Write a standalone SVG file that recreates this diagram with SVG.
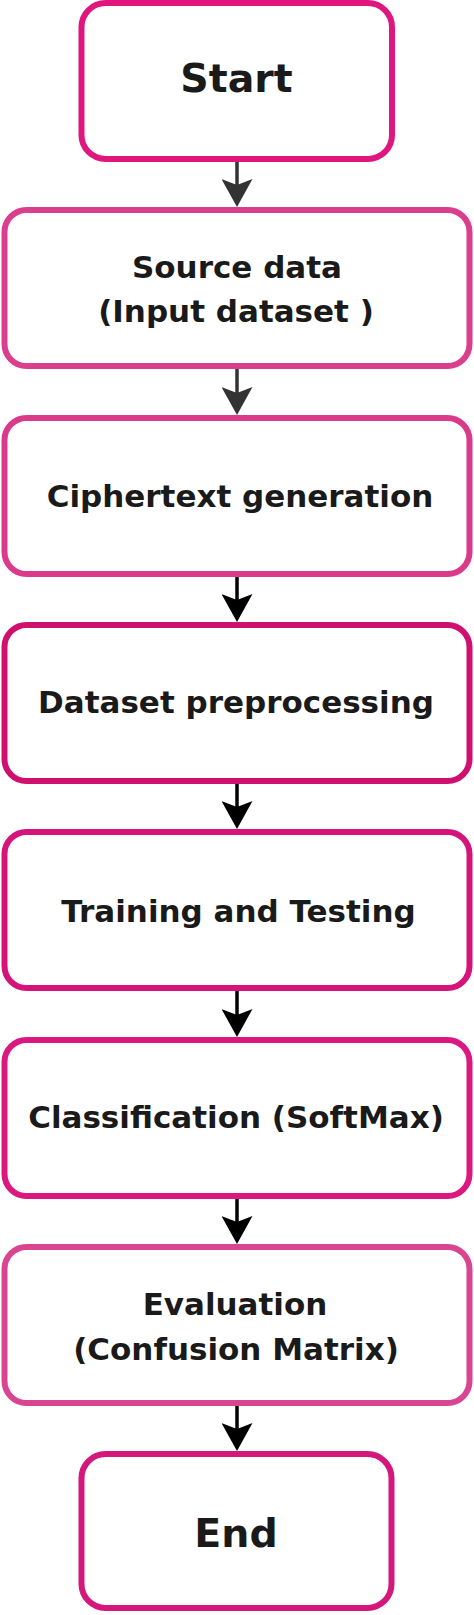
<svg xmlns="http://www.w3.org/2000/svg" width="474" height="1615" viewBox="0 0 474 1615">
<style>
.box{fill:#ffffff;stroke-width:6}
.lbl{font-family:"DejaVu Sans",Verdana,sans-serif;font-weight:bold;font-size:31px;fill:#1a1a1a;text-anchor:middle}
.big{font-size:39.5px}
.edge{fill:none;stroke-width:3.5}
</style>
<defs>
<marker id="ahGray" viewBox="0 0 28 31" refX="6" refY="15.5" markerWidth="28" markerHeight="31" markerUnits="userSpaceOnUse" orient="auto">
<path d="M0,0 L28,15.5 L0,31 L6,15.5 Z" fill="#333333"/>
</marker>
<marker id="ahBlack" viewBox="0 0 28 31" refX="6" refY="15.5" markerWidth="28" markerHeight="31" markerUnits="userSpaceOnUse" orient="auto">
<path d="M0,0 L28,15.5 L0,31 L6,15.5 Z" fill="#000000"/>
</marker>
</defs>
<rect width="474" height="1615" fill="#ffffff"/>
<g id="connectors">
<line class="edge" x1="237" y1="159" x2="237" y2="185" stroke="#333333" marker-end="url(#ahGray)"/>
<line class="edge" x1="237" y1="366" x2="237" y2="393" stroke="#333333" marker-end="url(#ahGray)"/>
<line class="edge" x1="237" y1="574" x2="237" y2="600" stroke="#000000" marker-end="url(#ahBlack)"/>
<line class="edge" x1="237" y1="781" x2="237" y2="807" stroke="#000000" marker-end="url(#ahBlack)"/>
<line class="edge" x1="237" y1="988" x2="237" y2="1015" stroke="#000000" marker-end="url(#ahBlack)"/>
<line class="edge" x1="237" y1="1196" x2="237" y2="1222" stroke="#000000" marker-end="url(#ahBlack)"/>
<line class="edge" x1="237" y1="1403" x2="237" y2="1429" stroke="#000000" marker-end="url(#ahBlack)"/>
</g>
<g id="start">
<rect class="box" x="81.5" y="3" width="310.5" height="156" rx="24" stroke="#E0167F"/>
<text class="lbl big" x="236.5" y="92">Start</text>
</g>
<g id="source">
<rect class="box" x="4.5" y="210" width="465" height="156" rx="22" stroke="#DB3E8C"/>
<text class="lbl" x="237" y="278">Source data</text>
<text class="lbl" x="236" y="322">(Input dataset )</text>
</g>
<g id="ciphertext">
<rect class="box" x="4.5" y="418" width="465" height="156" rx="22" stroke="#DA3A8A"/>
<text class="lbl" x="240" y="507">Ciphertext generation</text>
</g>
<g id="preprocessing">
<rect class="box" x="4.5" y="625" width="465" height="156" rx="22" stroke="#D0106F"/>
<text class="lbl" x="236" y="713">Dataset preprocessing</text>
</g>
<g id="training">
<rect class="box" x="4.5" y="832" width="465" height="156" rx="22" stroke="#D4147A"/>
<text class="lbl" x="238.5" y="922">Training and Testing</text>
</g>
<g id="classification">
<rect class="box" x="4.5" y="1040" width="465" height="156" rx="22" stroke="#DA1880"/>
<text class="lbl" x="236" y="1128">Classification (SoftMax)</text>
</g>
<g id="evaluation">
<rect class="box" x="4.5" y="1247" width="465" height="156" rx="22" stroke="#D94590"/>
<text class="lbl" x="235" y="1315">Evaluation</text>
<text class="lbl" x="236" y="1360">(Confusion Matrix)</text>
</g>
<g id="end">
<rect class="box" x="81.5" y="1454" width="310" height="154" rx="24" stroke="#D4177A"/>
<text class="lbl big" x="236" y="1547">End</text>
</g>
</svg>
